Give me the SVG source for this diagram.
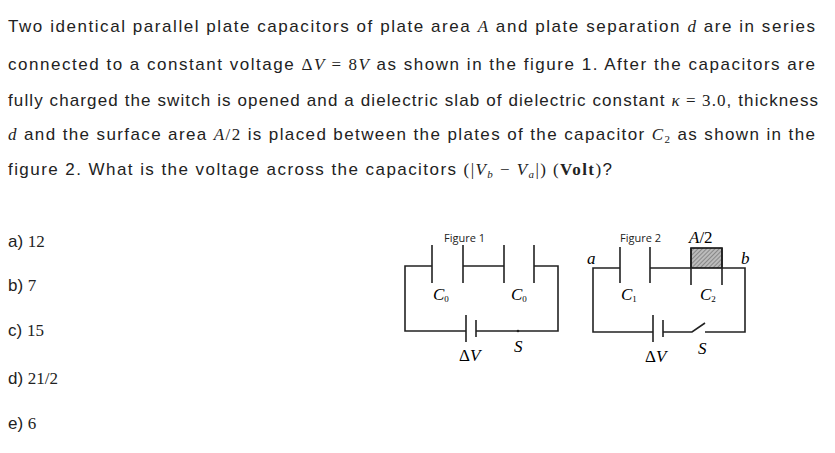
<svg xmlns="http://www.w3.org/2000/svg" width="835" height="453" viewBox="0 0 835 453">
<defs>
<style>
.t{font-family:"Liberation Sans",Arial,sans-serif;font-size:17px;fill:#222}
.m{font-family:"Liberation Serif","DejaVu Serif",serif;font-size:17px}
.i{font-style:italic}
.s{font-family:"Open Sans","Liberation Sans",sans-serif;font-size:11px;fill:#222}
.w{stroke:#222;stroke-width:1.6;fill:none}
</style>
<pattern id="h" width="3" height="3" patternUnits="userSpaceOnUse" patternTransform="rotate(45)"><rect width="3" height="3" fill="#bbb"/><line x1="0" y1="0" x2="0" y2="3" stroke="#555" stroke-width="1"/></pattern>
</defs>
<rect width="835" height="453" fill="#fff"/>
<g id="question">
<text class="t" x="8" y="32" textLength="807" lengthAdjust="spacing">Two identical parallel plate capacitors of plate area <tspan class="m i">A</tspan> and plate separation <tspan class="m i">d</tspan> are in series</text>
<text class="t" x="8" y="70" textLength="807" lengthAdjust="spacing">connected to a constant voltage <tspan class="m">Δ<tspan class="i">V</tspan> = 8<tspan class="i">V</tspan></tspan> as shown in the figure 1. After the capacitors are</text>
<text class="t" x="8" y="106" textLength="810" lengthAdjust="spacing">fully charged the switch is opened and a dielectric slab of dielectric constant <tspan class="m"><tspan class="i">κ</tspan> = 3.0</tspan>, thickness</text>
<text class="t" x="8" y="140" textLength="807" lengthAdjust="spacing"><tspan class="m i">d</tspan> and the surface area <tspan class="m"><tspan class="i">A</tspan>/2</tspan> is placed between the plates of the capacitor <tspan class="m"><tspan class="i">C</tspan><tspan font-size="11" dy="3">2</tspan></tspan><tspan dy="-3"> as shown in the</tspan></text>
<text class="t" x="8" y="175" textLength="604" lengthAdjust="spacing">figure 2. What is the voltage across the capacitors <tspan class="m">(|<tspan class="i">V</tspan><tspan font-size="11" dy="3" class="i">b</tspan><tspan dy="-3"> − </tspan><tspan class="i">V</tspan><tspan font-size="11" dy="3" class="i">a</tspan><tspan dy="-3">|) (</tspan><tspan font-weight="bold">Volt</tspan>)</tspan>?</text>
</g>
<g id="answers">
<text class="t" x="8" y="247">a) <tspan class="m">12</tspan></text>
<text class="t" x="8" y="291">b) <tspan class="m">7</tspan></text>
<text class="t" x="8" y="336">c) <tspan class="m">15</tspan></text>
<text class="t" x="8" y="384">d) <tspan class="m">21/2</tspan></text>
<text class="t" x="8" y="429">e) <tspan class="m">6</tspan></text>
</g>
<g id="figure1">
<text class="s" x="444" y="242">Figure 1</text>
<path class="w" d="M432 266H405V331H466M476 331H558V266H534M463 266H504"/>
<path class="w" d="M432 245V283M463 245V283M504 245V283M534 245V283M466 315V342M476 320V337"/>
<circle cx="518" cy="331" r="1.3" fill="#222"/>
<text class="m i" x="433" y="300" font-size="13">C<tspan font-size="9" dy="2" font-style="normal">0</tspan></text>
<text class="m i" x="511" y="300" font-size="13">C<tspan font-size="9" dy="2" font-style="normal">0</tspan></text>
<text class="m" x="459" y="361" font-size="13">Δ<tspan class="i">V</tspan></text>
<text class="m i" x="514" y="352" font-size="13">S</text>
</g>
<g id="figure2">
<text class="s" x="620" y="242">Figure 2</text>
<text class="m" x="689" y="243" font-size="13"><tspan class="i">A</tspan>/2</text>
<text class="m i" x="587" y="264" font-size="12">a</text>
<text class="m i" x="741" y="264" font-size="12">b</text>
<rect x="691" y="248" width="31" height="20" fill="url(#h)" stroke="#111" stroke-width="1.6"/>
<path class="w" d="M620 268H593V332H653M663 332H692L705 323M705 332H745V268H722M650 268H691"/>
<path class="w" d="M620 247V283M650 247V283M691 248V285M722 248V285M653 315V342M663 320V337"/>
<text class="m i" x="621" y="300" font-size="13">C<tspan font-size="9" dy="2" font-style="normal">1</tspan></text>
<text class="m i" x="700" y="300" font-size="13">C<tspan font-size="9" dy="2" font-style="normal">2</tspan></text>
<text class="m" x="645" y="362" font-size="13">Δ<tspan class="i">V</tspan></text>
<text class="m i" x="698" y="354" font-size="13">S</text>
</g>
</svg>
